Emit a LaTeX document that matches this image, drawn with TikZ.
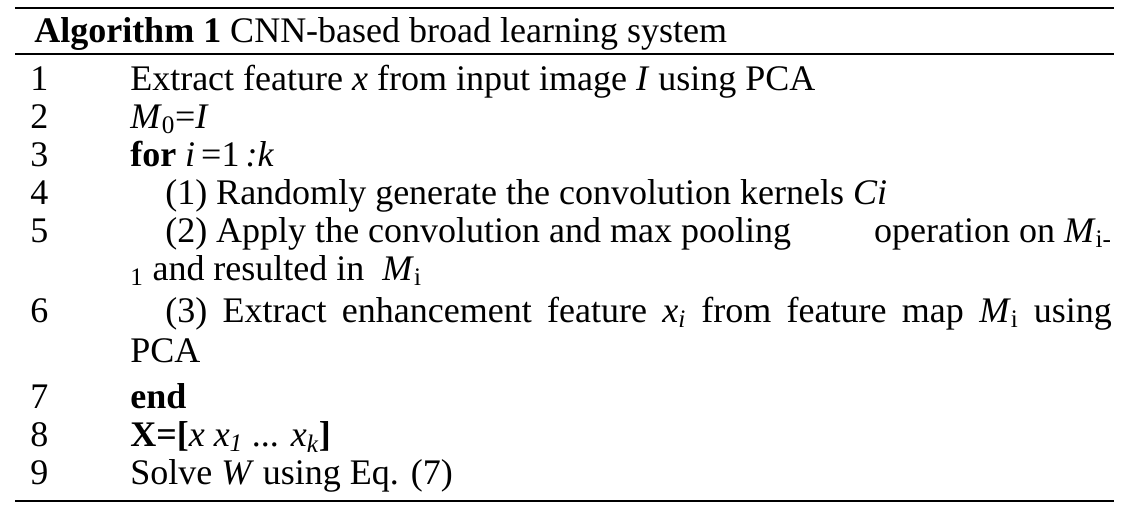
\documentclass[tikz,border=0pt]{standalone}
\usepackage{fontspec}
\setmainfont{Liberation Serif}
\begin{document}
\begin{tikzpicture}[x=0.75pt,y=-0.75pt,
  txt/.style={anchor=base west,inner sep=0pt,font=\fontsize{27}{32}\selectfont},
  txte/.style={anchor=base east,inner sep=0pt,font=\fontsize{27}{32}\selectfont}]
\useasboundingbox (0,0) rectangle (1144,512);
\draw[line width=0.9pt] (15,8) -- (1114,8);
\draw[line width=1.1pt] (15,54) -- (1114,54);
\draw[line width=1.1pt] (15,501) -- (1114,501);
\node[txt] (h) at (34,42) {\textbf{Algorithm 1} CNN-based broad learning system};
\foreach \n/\y in {1/90,2/128,3/166,4/204,5/242,6/322,7/408,8/446,9/484}
  \node[txt] (n\n) at (30,\y) {\n};
\node[txt] (r1) at (130,90) {Extract feature \textit{x} from input image \textit{I} using PCA};
\node[txt] (r2) at (130,128) {\textit{M}\textsubscript{0}=\textit{I}};
\node[txt] (r3) at (130,166) {\textbf{for} \textit{i}\,=1\,\textit{:k}};
\node[txt] (r4) at (165,204) {(1) Randomly generate the convolution kernels \textit{Ci}};
\node[txt] (r5a) at (165,242) {(2) Apply the convolution and max pooling};
\node[txte] (r5b) at (1112,242) {operation on \textit{M}\textsubscript{i-}};
\node[txt] (r5c) at (130,280) {\textsubscript{1} and resulted in\ \ \textit{M}\textsubscript{i}};
\node[txt] (r6a) at (165,322) {\makebox[710pt][s]{(3) Extract enhancement feature \textit{x\textsubscript{i}} from feature map \textit{M}\textsubscript{i} using}};
\node[txt] (r6b) at (130,362) {PCA};
\node[txt] (r7) at (130,408) {\textbf{end}};
\node[txt] (r8) at (130,446) {\textbf{X=[}\textit{x x\textsubscript{1}} ... \textit{x\textsubscript{k}}\textbf{]}};
\node[txt] (r9) at (130,484) {Solve \textit{W} using Eq. (7)};
\end{tikzpicture}
\end{document}
